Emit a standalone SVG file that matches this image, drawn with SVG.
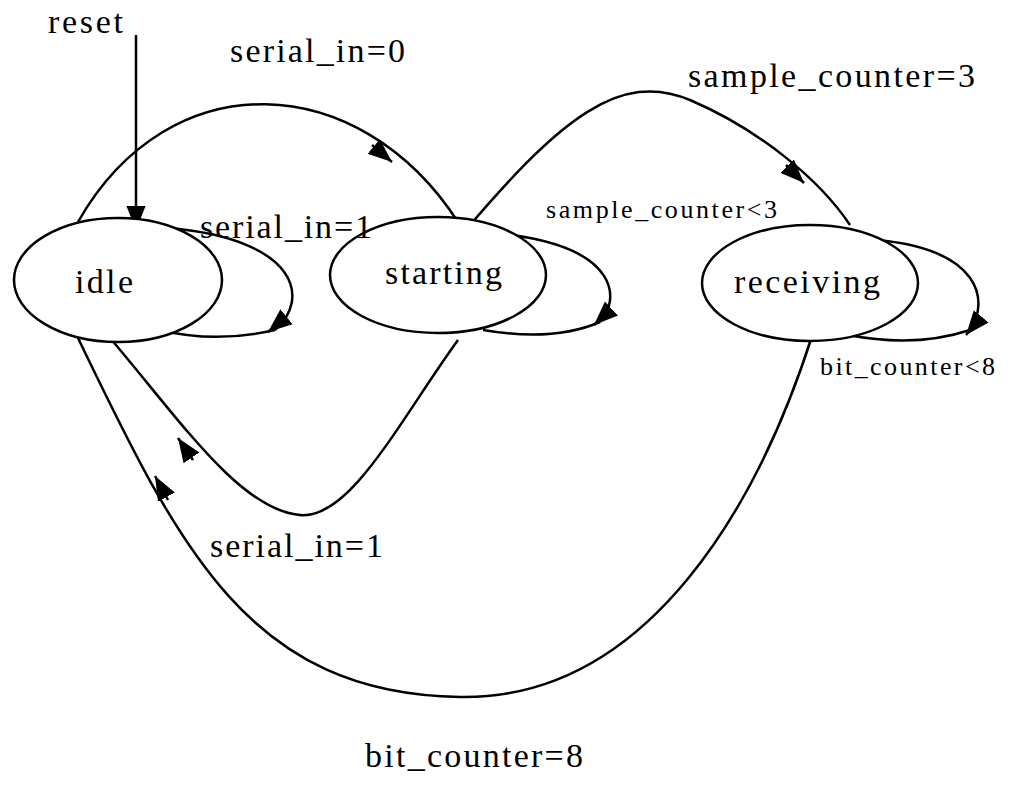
<svg xmlns="http://www.w3.org/2000/svg" width="1012" height="812" viewBox="0 0 1012 812">
<style>
.n ellipse{fill:#fff;stroke:#000;stroke-width:2.5}
.c path{fill:none;stroke:#000;stroke-width:2.5}
text{font-family:"Liberation Serif",serif;fill:#000}
.l{font-size:34px}.s{font-size:26px}
</style>
<defs>
<marker id="b" viewBox="0 0 10 10" refX="10" refY="5" markerWidth="24" markerHeight="24" markerUnits="userSpaceOnUse" orient="auto"><path d="M0,1 L10,5 L0,9 z" fill="#000"/></marker></defs>
<rect width="1012" height="812" fill="#fff"/>
<g class="c">
<path d="M136,35 L136,230" marker-end="url(#b)"/>
<path d="M78,222 C170,60 360,70 458,222"/><path d="M372,145 L392,162" marker-end="url(#b)"/>
<path d="M170,228 C300,240 310,300 275,330"/><path d="M160,330 C200,340 240,338 275,330"/><path d="M285,318 L268,332" marker-end="url(#b)"/>
<path d="M512,235 C620,250 620,300 600,322"/><path d="M483,330 C530,338 570,335 600,322"/><path d="M610,310 L594,325" marker-end="url(#b)"/>
<path d="M470,225 C560,120 620,70 690,100 C760,130 820,180 850,225"/><path d="M786,165 L804,183" marker-end="url(#b)"/>
<path d="M878,240 C980,250 990,300 970,330"/><path d="M848,335 C900,345 940,340 970,330"/><path d="M980,318 L966,335" marker-end="url(#b)"/>
<path d="M458,340 C400,420 350,520 300,515 C240,510 180,420 110,338"/><path d="M193,460 L178,438" marker-end="url(#b)"/>
<path d="M813,333 C760,500 650,700 460,697 C250,694 180,550 78,338"/><path d="M168,500 L155,476" marker-end="url(#b)"/>
</g>
<g id="idle" class="n"><ellipse cx="118" cy="280" rx="104" ry="62"/><text x="75" y="293" class="l" textLength="58">idle</text></g>
<g id="starting" class="n"><ellipse cx="438" cy="275" rx="108" ry="58"/><text x="385" y="284" class="l" textLength="117">starting</text></g>
<g id="receiving" class="n"><ellipse cx="810" cy="283" rx="108" ry="58"/><text x="734" y="293" class="l" textLength="146">receiving</text></g>
<text x="48" y="33" class="l" textLength="75">reset</text>
<text x="230" y="62" class="l" textLength="175">serial_in=0</text>
<text x="688" y="87" class="l" textLength="287">sample_counter=3</text>
<text x="200" y="238" class="l" textLength="172">serial_in=1</text>
<text x="546" y="218" class="s" textLength="231">sample_counter&lt;3</text>
<text x="820" y="375" class="s" textLength="175">bit_counter&lt;8</text>
<text x="210" y="557" class="l" textLength="173">serial_in=1</text>
<text x="365" y="767" class="l" textLength="218">bit_counter=8</text>
</svg>
